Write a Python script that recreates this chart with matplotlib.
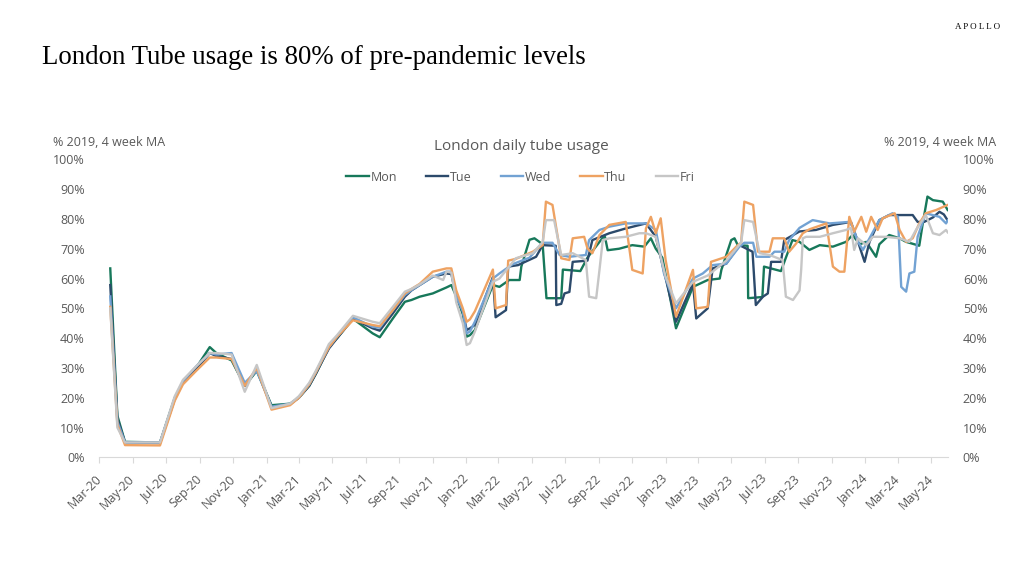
import pandas as pd
import matplotlib
matplotlib.use("Agg")
import matplotlib.pyplot as plt
import matplotlib.dates as mdates
from matplotlib.ticker import MultipleLocator, FuncFormatter

# weekly 4-week MA, % of 2019 level; (date, value)
MON = [("2020-03-21", 63.4), ("2020-04-03", 14), ("2020-04-17", 5.2), ("2020-06-20", 5), ("2020-07-17", 20),
       ("2020-08-01", 25), ("2020-08-25", 30), ("2020-09-19", 37), ("2020-10-01", 35), ("2020-10-29", 32.5),
       ("2020-11-22", 24), ("2020-12-14", 29), ("2021-01-10", 17.5), ("2021-02-13", 18), ("2021-03-01", 20),
       ("2021-03-20", 24), ("2021-04-01", 28), ("2021-04-12", 32), ("2021-04-25", 37), ("2021-05-10", 40),
       ("2021-06-08", 46.5), ("2021-07-14", 41.6), ("2021-07-27", 40.3), ("2021-08-20", 46.6), ("2021-09-11", 52.2),
       ("2021-09-23", 52.8), ("2021-10-08", 53.9), ("2021-11-01", 55), ("2021-11-26", 57), ("2021-12-05", 57.8),
       ("2021-12-14", 54), ("2021-12-26", 48), ("2022-01-02", 40.5), ("2022-01-08", 41), ("2022-01-17", 42.7),
       ("2022-02-19", 57.8), ("2022-03-03", 57.2), ("2022-03-21", 59.5), ("2022-04-09", 59.5), ("2022-04-12", 64),
       ("2022-04-27", 73), ("2022-05-06", 73.5), ("2022-05-21", 71.5), ("2022-05-28", 53.4), ("2022-06-24", 53.4),
       ("2022-06-27", 63), ("2022-07-29", 62.5), ("2022-08-11", 67), ("2022-09-07", 73.5), ("2022-09-12", 74),
       ("2022-09-17", 69.5), ("2022-10-08", 70), ("2022-11-01", 71.2), ("2022-11-23", 70.7), ("2022-12-05", 73.5),
       ("2022-12-14", 70), ("2022-12-26", 67), ("2023-01-20", 43.3), ("2023-02-20", 57.2), ("2023-03-19", 59.5),
       ("2023-04-10", 60), ("2023-04-13", 62.9), ("2023-05-01", 72.9), ("2023-05-07", 73.5), ("2023-05-13", 71.2),
       ("2023-05-31", 71), ("2023-06-01", 53.4), ("2023-06-27", 53.8), ("2023-06-30", 64), ("2023-07-31", 62.5),
       ("2023-08-09", 67), ("2023-08-21", 72.9), ("2023-09-03", 72.3), ("2023-09-21", 69.6), ("2023-10-10", 71.2),
       ("2023-11-03", 70.7), ("2023-11-27", 72.3), ("2023-12-09", 74.6), ("2023-12-22", 71.5), ("2024-01-03", 72.3),
       ("2024-01-21", 67.3), ("2024-01-27", 71.5), ("2024-02-14", 74.6), ("2024-03-04", 73.5), ("2024-03-16", 72.3),
       ("2024-03-31", 71.5), ("2024-04-09", 71), ("2024-04-15", 78), ("2024-04-24", 87.5), ("2024-05-04", 86.3),
       ("2024-05-22", 85.8), ("2024-05-31", 83)]

TUE = [("2020-03-21", 57.8), ("2020-04-03", 13), ("2020-04-17", 5), ("2020-06-20", 4.8), ("2020-07-17", 19.5),
       ("2020-08-01", 25), ("2020-08-25", 29.5), ("2020-09-19", 35), ("2020-10-01", 34), ("2020-10-29", 33),
       ("2020-11-22", 24), ("2020-12-14", 29.5), ("2021-01-10", 17), ("2021-02-13", 17.8), ("2021-03-01", 20),
       ("2021-03-20", 24), ("2021-04-01", 28), ("2021-04-12", 32), ("2021-04-25", 36.5), ("2021-05-10", 40),
       ("2021-06-08", 46.5), ("2021-07-14", 43.3), ("2021-07-27", 42.5), ("2021-08-20", 48.3), ("2021-09-11", 53.9),
       ("2021-09-23", 56), ("2021-10-08", 57.8), ("2021-11-01", 60.6), ("2021-11-26", 61.7), ("2021-12-05", 61.5),
       ("2021-12-14", 54), ("2021-12-26", 49), ("2022-01-02", 42.7), ("2022-01-08", 43.3), ("2022-01-17", 44.4),
       ("2022-02-19", 60.5), ("2022-02-24", 47), ("2022-03-15", 49.4), ("2022-03-19", 64), ("2022-04-06", 64.5),
       ("2022-05-09", 67.3), ("2022-05-21", 71.2), ("2022-06-14", 71), ("2022-06-15", 51.1), ("2022-06-24", 51.5),
       ("2022-06-30", 55), ("2022-07-09", 55.5), ("2022-07-15", 65.6), ("2022-08-11", 66), ("2022-08-20", 72.9),
       ("2022-09-20", 75.2), ("2022-10-20", 76.8), ("2022-11-26", 78.5), ("2022-12-14", 74), ("2023-01-20", 45.5),
       ("2023-02-20", 58.4), ("2023-02-26", 46.6), ("2023-03-19", 50), ("2023-03-28", 63.4), ("2023-04-22", 65),
       ("2023-05-16", 71.2), ("2023-06-09", 69), ("2023-06-15", 51.1), ("2023-06-28", 53.9), ("2023-07-07", 55),
       ("2023-07-13", 65.6), ("2023-07-31", 65.6), ("2023-08-06", 72.9), ("2023-09-03", 75.8), ("2023-10-03", 76.3),
       ("2023-11-03", 78), ("2023-12-06", 79), ("2023-12-19", 72.3), ("2023-12-31", 65.6), ("2024-01-09", 72.3),
       ("2024-01-27", 79.6), ("2024-02-14", 81.3), ("2024-03-28", 81.3), ("2024-04-06", 79), ("2024-04-18", 79),
       ("2024-05-04", 80.5), ("2024-05-16", 82.4), ("2024-05-24", 81.5), ("2024-05-31", 79.5)]

WED = [("2020-03-21", 54), ("2020-04-03", 12), ("2020-04-17", 5), ("2020-06-20", 5), ("2020-07-17", 20),
       ("2020-08-01", 25.5), ("2020-08-25", 30.5), ("2020-09-19", 35), ("2020-10-01", 34.5), ("2020-10-29", 35),
       ("2020-11-22", 25), ("2020-12-14", 29), ("2021-01-10", 17), ("2021-02-13", 18), ("2021-03-01", 20),
       ("2021-03-20", 24.5), ("2021-04-01", 28.5), ("2021-04-12", 32.5), ("2021-04-25", 37), ("2021-05-10", 40.5),
       ("2021-06-08", 47), ("2021-07-14", 43.8), ("2021-07-27", 43.5), ("2021-08-20", 49.4), ("2021-09-11", 54.5),
       ("2021-09-23", 56.1), ("2021-10-08", 57.8), ("2021-11-01", 60.6), ("2021-11-26", 62.3), ("2021-12-05", 62.3),
       ("2021-12-14", 54), ("2021-12-26", 49), ("2022-01-02", 41.6), ("2022-01-08", 42.2), ("2022-01-17", 45.5),
       ("2022-02-19", 60), ("2022-03-03", 61.7), ("2022-03-27", 64.8), ("2022-04-27", 67), ("2022-05-21", 72),
       ("2022-06-08", 72), ("2022-06-21", 67.9), ("2022-07-09", 67.3), ("2022-08-08", 67.9), ("2022-08-14", 72.9),
       ("2022-09-02", 76.3), ("2022-09-20", 77.4), ("2022-10-20", 78.5), ("2022-11-26", 78.5), ("2022-12-14", 76.3),
       ("2022-12-29", 61.7), ("2023-01-20", 50), ("2023-02-20", 60), ("2023-03-10", 61.7), ("2023-03-28", 64.5),
       ("2023-04-22", 65), ("2023-05-16", 70.7), ("2023-05-25", 72), ("2023-06-10", 72), ("2023-06-16", 67.3),
       ("2023-07-10", 67.3), ("2023-07-19", 69), ("2023-08-06", 69), ("2023-08-15", 72.9), ("2023-09-03", 77),
       ("2023-09-27", 79.6), ("2023-10-28", 78.5), ("2023-12-03", 79), ("2023-12-09", 77.4), ("2023-12-19", 72.3),
       ("2023-12-28", 69.6), ("2024-01-09", 73.5), ("2024-01-27", 79.6), ("2024-02-20", 81.9), ("2024-03-01", 80.7),
       ("2024-03-07", 57.2), ("2024-03-16", 55.6), ("2024-03-22", 61.7), ("2024-03-31", 62.3), ("2024-04-06", 74),
       ("2024-04-21", 81.9), ("2024-05-16", 80.7), ("2024-05-28", 78.5), ("2024-05-31", 79.5)]

THU = [("2020-03-21", 50.5), ("2020-04-03", 11), ("2020-04-17", 4.1), ("2020-06-20", 4), ("2020-07-17", 19),
       ("2020-08-01", 24.5), ("2020-08-25", 29), ("2020-09-19", 33.5), ("2020-10-01", 33.5), ("2020-10-29", 33),
       ("2020-11-22", 24), ("2020-12-14", 30), ("2021-01-10", 16), ("2021-02-13", 17.5), ("2021-03-01", 20),
       ("2021-03-20", 24.5), ("2021-04-01", 28.5), ("2021-04-12", 32.5), ("2021-04-25", 37), ("2021-05-10", 40.5),
       ("2021-06-08", 46), ("2021-07-14", 44.4), ("2021-07-27", 44), ("2021-08-20", 49.4), ("2021-09-11", 55),
       ("2021-09-23", 56.5), ("2021-10-08", 58.2), ("2021-11-01", 62.3), ("2021-11-26", 63.4), ("2021-12-05", 63.4),
       ("2021-12-14", 56), ("2021-12-26", 50), ("2022-01-02", 45.5), ("2022-01-08", 46.3), ("2022-01-17", 49),
       ("2022-02-19", 63), ("2022-02-24", 50), ("2022-03-15", 51.1), ("2022-03-19", 66), ("2022-04-02", 66.6),
       ("2022-05-03", 69), ("2022-05-21", 71.2), ("2022-05-27", 85.8), ("2022-06-08", 84.7), ("2022-06-24", 66.8),
       ("2022-07-09", 66.2), ("2022-07-15", 73.5), ("2022-08-05", 74), ("2022-08-11", 70.1), ("2022-08-20", 68.5),
       ("2022-09-02", 74.6), ("2022-09-20", 78), ("2022-10-20", 79), ("2022-11-01", 62.9), ("2022-11-20", 61.7),
       ("2022-11-26", 76.8), ("2022-12-05", 80.7), ("2022-12-14", 75.2), ("2022-12-23", 80.2), ("2023-01-01", 66.2),
       ("2023-01-20", 47.2), ("2023-02-20", 62.9), ("2023-02-26", 50), ("2023-03-19", 50.5), ("2023-03-25", 65.6),
       ("2023-04-22", 67.3), ("2023-05-13", 71.2), ("2023-05-19", 72), ("2023-05-25", 85.8), ("2023-06-10", 84.7),
       ("2023-06-19", 69), ("2023-07-10", 69), ("2023-07-16", 73.5), ("2023-08-06", 73.5), ("2023-08-15", 69),
       ("2023-08-28", 71.8), ("2023-09-09", 75.2), ("2023-09-21", 76.5), ("2023-10-22", 78.5), ("2023-11-03", 64),
       ("2023-11-15", 62.3), ("2023-11-24", 62.3), ("2023-12-03", 80.7), ("2023-12-12", 75.7), ("2023-12-25", 80.7),
       ("2024-01-03", 75.7), ("2024-01-12", 80.7), ("2024-01-24", 76.3), ("2024-02-02", 80.2), ("2024-02-24", 81.9),
       ("2024-03-04", 76.3), ("2024-03-16", 72.3), ("2024-03-28", 73.5), ("2024-04-09", 78.5), ("2024-04-21", 81.9),
       ("2024-05-10", 83), ("2024-05-31", 84.7)]

FRI = [("2020-03-21", 50), ("2020-04-03", 10), ("2020-04-17", 5), ("2020-06-20", 5), ("2020-07-17", 20.5),
       ("2020-08-01", 26), ("2020-08-25", 30.5), ("2020-09-19", 35), ("2020-10-01", 35), ("2020-10-29", 34.5),
       ("2020-11-22", 22), ("2020-12-14", 31), ("2021-01-10", 16.5), ("2021-02-13", 18), ("2021-03-01", 20.5),
       ("2021-03-20", 25), ("2021-04-01", 29), ("2021-04-12", 33), ("2021-04-25", 38), ("2021-05-10", 41),
       ("2021-06-08", 47.5), ("2021-07-14", 45.5), ("2021-07-27", 45), ("2021-08-20", 50.5), ("2021-09-11", 55.6),
       ("2021-09-23", 56.5), ("2021-10-08", 58), ("2021-11-01", 61), ("2021-11-20", 59.5), ("2021-11-26", 62.3),
       ("2021-12-05", 62), ("2021-12-14", 52), ("2021-12-26", 45), ("2022-01-02", 37.7), ("2022-01-08", 38.3),
       ("2022-01-17", 42.2), ("2022-02-19", 58.9), ("2022-03-03", 60), ("2022-04-02", 66.8), ("2022-05-03", 68.5),
       ("2022-05-21", 72.2), ("2022-05-27", 79.6), ("2022-06-11", 79.6), ("2022-06-24", 67.9), ("2022-07-15", 68.5),
       ("2022-08-08", 66.2), ("2022-08-14", 53.9), ("2022-08-27", 53.4), ("2022-09-02", 62.9), ("2022-09-08", 72.9),
       ("2022-09-20", 73.5), ("2022-10-20", 74), ("2022-11-14", 75.2), ("2022-11-26", 75.2), ("2022-12-14", 74),
       ("2023-01-01", 60.6), ("2023-01-20", 51.7), ("2023-02-20", 58.9), ("2023-03-19", 61), ("2023-04-22", 66),
       ("2023-05-19", 72), ("2023-05-25", 79.6), ("2023-06-10", 79), ("2023-06-22", 68.5), ("2023-07-10", 67.9),
       ("2023-08-03", 66.2), ("2023-08-09", 53.9), ("2023-08-22", 52.8), ("2023-09-03", 56), ("2023-09-06", 63),
       ("2023-09-09", 73.5), ("2023-09-15", 74), ("2023-10-10", 74), ("2023-11-03", 75.2), ("2023-11-27", 76.3),
       ("2023-12-06", 77), ("2023-12-12", 69.6), ("2023-12-19", 73.5), ("2024-01-03", 71.2), ("2024-01-15", 74),
       ("2024-02-08", 74), ("2024-03-04", 73.5), ("2024-03-22", 72.3), ("2024-04-03", 76.3), ("2024-04-21", 81.3),
       ("2024-05-04", 75.2), ("2024-05-16", 74.6), ("2024-05-28", 76.3), ("2024-05-31", 75.5)]

SERIES = {"Mon": MON, "Tue": TUE, "Wed": WED, "Thu": THU, "Fri": FRI}
COLORS = {"Mon": "#17785a", "Tue": "#2c4a6b", "Wed": "#72a2d3", "Thu": "#eea262", "Fri": "#c6c6c6"}
GREY = "#595959"

plt.rcParams["font.family"] = ["Open Sans", "DejaVu Sans"]
fig = plt.figure(figsize=(10.24, 5.76), dpi=100)
ax = fig.add_axes([0.097, 0.206, 0.829, 0.5174])

for name, pts in SERIES.items():
    d = pd.to_datetime([p[0] for p in pts])
    ax.plot(d, [p[1] for p in pts], color=COLORS[name], lw=1.7, label=name, solid_joinstyle="round")

ax.set_xlim(pd.Timestamp("2020-03-01"), pd.Timestamp("2024-06-01"))
ax.set_ylim(0, 100)
ax.yaxis.set_major_locator(MultipleLocator(10))
ax.yaxis.set_major_formatter(FuncFormatter(lambda v, p: f"{v:.0f}%"))
ax.tick_params(axis="y", length=0, pad=10.5, labelleft=True, labelright=True, labelsize=9, labelcolor=GREY)
ax.xaxis.set_major_locator(mdates.MonthLocator(bymonth=[1, 3, 5, 7, 9, 11]))
ax.xaxis.set_major_formatter(mdates.DateFormatter("%b-%y"))
ax.tick_params(axis="x", length=4, color="#d9d9d9", pad=10, labelsize=9, labelcolor=GREY)
for lb in ax.get_xticklabels():
    lb.set_rotation(45); lb.set_ha("right"); lb.set_va("center"); lb.set_rotation_mode("anchor")
for s in ("left", "right", "top"):
    ax.spines[s].set_visible(False)
ax.spines["bottom"].set_color("#d9d9d9")

fig.text(42 / 1024, 1 - 63.5 / 576, "London Tube usage is 80% of pre-pandemic levels",
         family="Liberation Serif", fontsize=19.4, va="baseline", ha="left", color="black")
fig.text(1000 / 1024, 1 - 27 / 576, "A P O L L O", family="Liberation Serif", fontsize=6.5, ha="right", va="center")
fig.text(521.5 / 1024, 1 - 147 / 576, "London daily tube usage", fontsize=11, color=GREY, ha="center", va="center")
fig.text(53 / 1024, 1 - 142 / 576, "% 2019, 4 week MA", fontsize=9, color=GREY, ha="left", va="center")
fig.text(996 / 1024, 1 - 142 / 576, "% 2019, 4 week MA", fontsize=9, color=GREY, ha="right", va="center")

fig.legend(loc="center", bbox_to_anchor=(520.5 / 1024, 1 - 177 / 576), ncol=5, frameon=False,
           fontsize=9, labelcolor=GREY, handlelength=1.8, handletextpad=0.15, columnspacing=2.3, borderpad=0)

fig.savefig("out.png", dpi=100, facecolor="white")
